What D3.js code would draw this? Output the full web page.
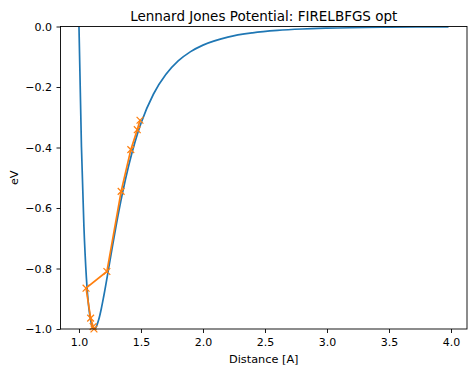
<!DOCTYPE html>
<html>
<head>
<meta charset="utf-8">
<script src="https://cdn.jsdelivr.net/npm/d3@7"></script>
<style>
  body { margin: 0; background: #fff; }
  text { font-family: "DejaVu Sans", sans-serif; fill: #000; }
</style>
</head>
<body>
<script>
// potential curve
var curveR = [1.00, 1.02, 1.04, 1.06, 1.08, 1.10, 1.12, 1.14, 1.16, 1.18, 1.20, 1.25, 1.30, 1.35, 1.40, 1.45, 1.50,
              1.60, 1.70, 1.80, 1.90, 2.00, 2.20, 2.40, 2.60, 2.80, 3.00, 3.50, 3.98];
var curveE = [0.0, -0.398, -0.663, -0.832, -0.932, -0.983, -1.0, -0.992, -0.968, -0.933, -0.891, -0.774, -0.657, -0.552, -0.461, -0.384, -0.320,
              -0.224, -0.159, -0.114, -0.083, -0.0615, -0.035, -0.021, -0.013, -0.0083, -0.0055, -0.0022, -0.001];

// optimiser steps
var stepR = [1.492, 1.470, 1.418, 1.340, 1.225, 1.057, 1.094, 1.114, 1.121];
var stepE = [-0.310, -0.341, -0.407, -0.545, -0.810, -0.865, -0.964, -0.992, -1.0];

var xTicks = [1.0, 1.5, 2.0, 2.5, 3.0, 3.5, 4.0];
var yTicks = [0.0, -0.2, -0.4, -0.6, -0.8, -1.0];

var W = 474, H = 373;
var m = {left: 60.5, right: 7, top: 26.5, bottom: 44};

var svg = d3.select(document.body).append("svg")
    .attr("width", W).attr("height", H);

var x = d3.scaleLinear().domain([0.851, 4.129]).range([m.left, W - m.right]);
var y = d3.scaleLinear().domain([-1, 0]).range([H - m.bottom, m.top]);

svg.append("defs").append("clipPath").attr("id", "clip")
  .append("rect")
    .attr("x", m.left).attr("y", m.top)
    .attr("width", W - m.right - m.left).attr("height", H - m.bottom - m.top);

var fmt = function(d){ return d3.format(".1f")(d).replace("-", "\u2212"); };

var g = svg.append("g").attr("clip-path", "url(#clip)");

var curve = curveR.map(function(r, i){ return [r, curveE[i]]; });
var steps = stepR.map(function(r, i){ return [r, stepE[i]]; });

var line = d3.line()
    .x(function(d){ return x(d[0]); })
    .y(function(d){ return y(d[1]); });

g.append("path")
    .datum(curve)
    .attr("d", line.curve(d3.curveMonotoneX))
    .style("fill", "none")
    .style("stroke", "#1f77b4")
    .style("stroke-width", 1.7);

var line2 = d3.line()
    .x(function(d){ return x(d[0]); })
    .y(function(d){ return y(d[1]); });

svg.append("path")
    .datum(steps)
    .attr("d", line2)
    .style("fill", "none")
    .style("stroke", "#ff7f0e")
    .style("stroke-width", 1.7);

var s = 3.4;
svg.selectAll(".mark").data(steps).enter().append("path")
    .attr("class", "mark")
    .attr("d", function(d){
        var cx = x(d[0]), cy = y(d[1]);
        return "M" + (cx - s) + "," + (cy - s) + "L" + (cx + s) + "," + (cy + s) +
               "M" + (cx - s) + "," + (cy + s) + "L" + (cx + s) + "," + (cy - s);
    })
    .style("stroke", "#ff7f0e")
    .style("stroke-width", 1.2)
    .style("fill", "none");

// axes
var xAxis = svg.append("g")
    .attr("transform", "translate(0," + (H - m.bottom) + ")")
    .call(d3.axisBottom(x).tickValues(xTicks).tickFormat(fmt).tickSizeOuter(0).tickSize(4).tickPadding(5));
var yAxis = svg.append("g")
    .attr("transform", "translate(" + m.left + ",0)")
    .call(d3.axisLeft(y).tickValues(yTicks).tickFormat(fmt).tickSizeOuter(0).tickSize(4).tickPadding(4.5));

[xAxis, yAxis].forEach(function(a){
    a.selectAll("text").style("font-size", "11px").style("font-family", "DejaVu Sans, sans-serif");
    a.select(".domain").remove();
    a.selectAll("line").style("stroke", "#000").style("stroke-width", 0.9);
});

svg.append("rect")
    .attr("x", m.left).attr("y", m.top)
    .attr("width", W - m.right - m.left).attr("height", H - m.bottom - m.top)
    .style("fill", "none").style("stroke", "#000").style("stroke-width", 0.9);

svg.append("text")
    .attr("x", (m.left + W - m.right) / 2).attr("y", 21)
    .attr("text-anchor", "middle")
    .style("font-size", "13.5px")
    .text("Lennard Jones Potential: FIRELBFGS opt");

svg.append("text")
    .attr("x", (m.left + W - m.right) / 2).attr("y", 363)
    .attr("text-anchor", "middle")
    .style("font-size", "11.3px")
    .text("Distance [A]");

svg.append("text")
    .attr("transform", "translate(18," + ((m.top + H - m.bottom) / 2) + ") rotate(-90)")
    .attr("text-anchor", "middle")
    .style("font-size", "11.3px")
    .text("eV");
</script>
</body>
</html>
